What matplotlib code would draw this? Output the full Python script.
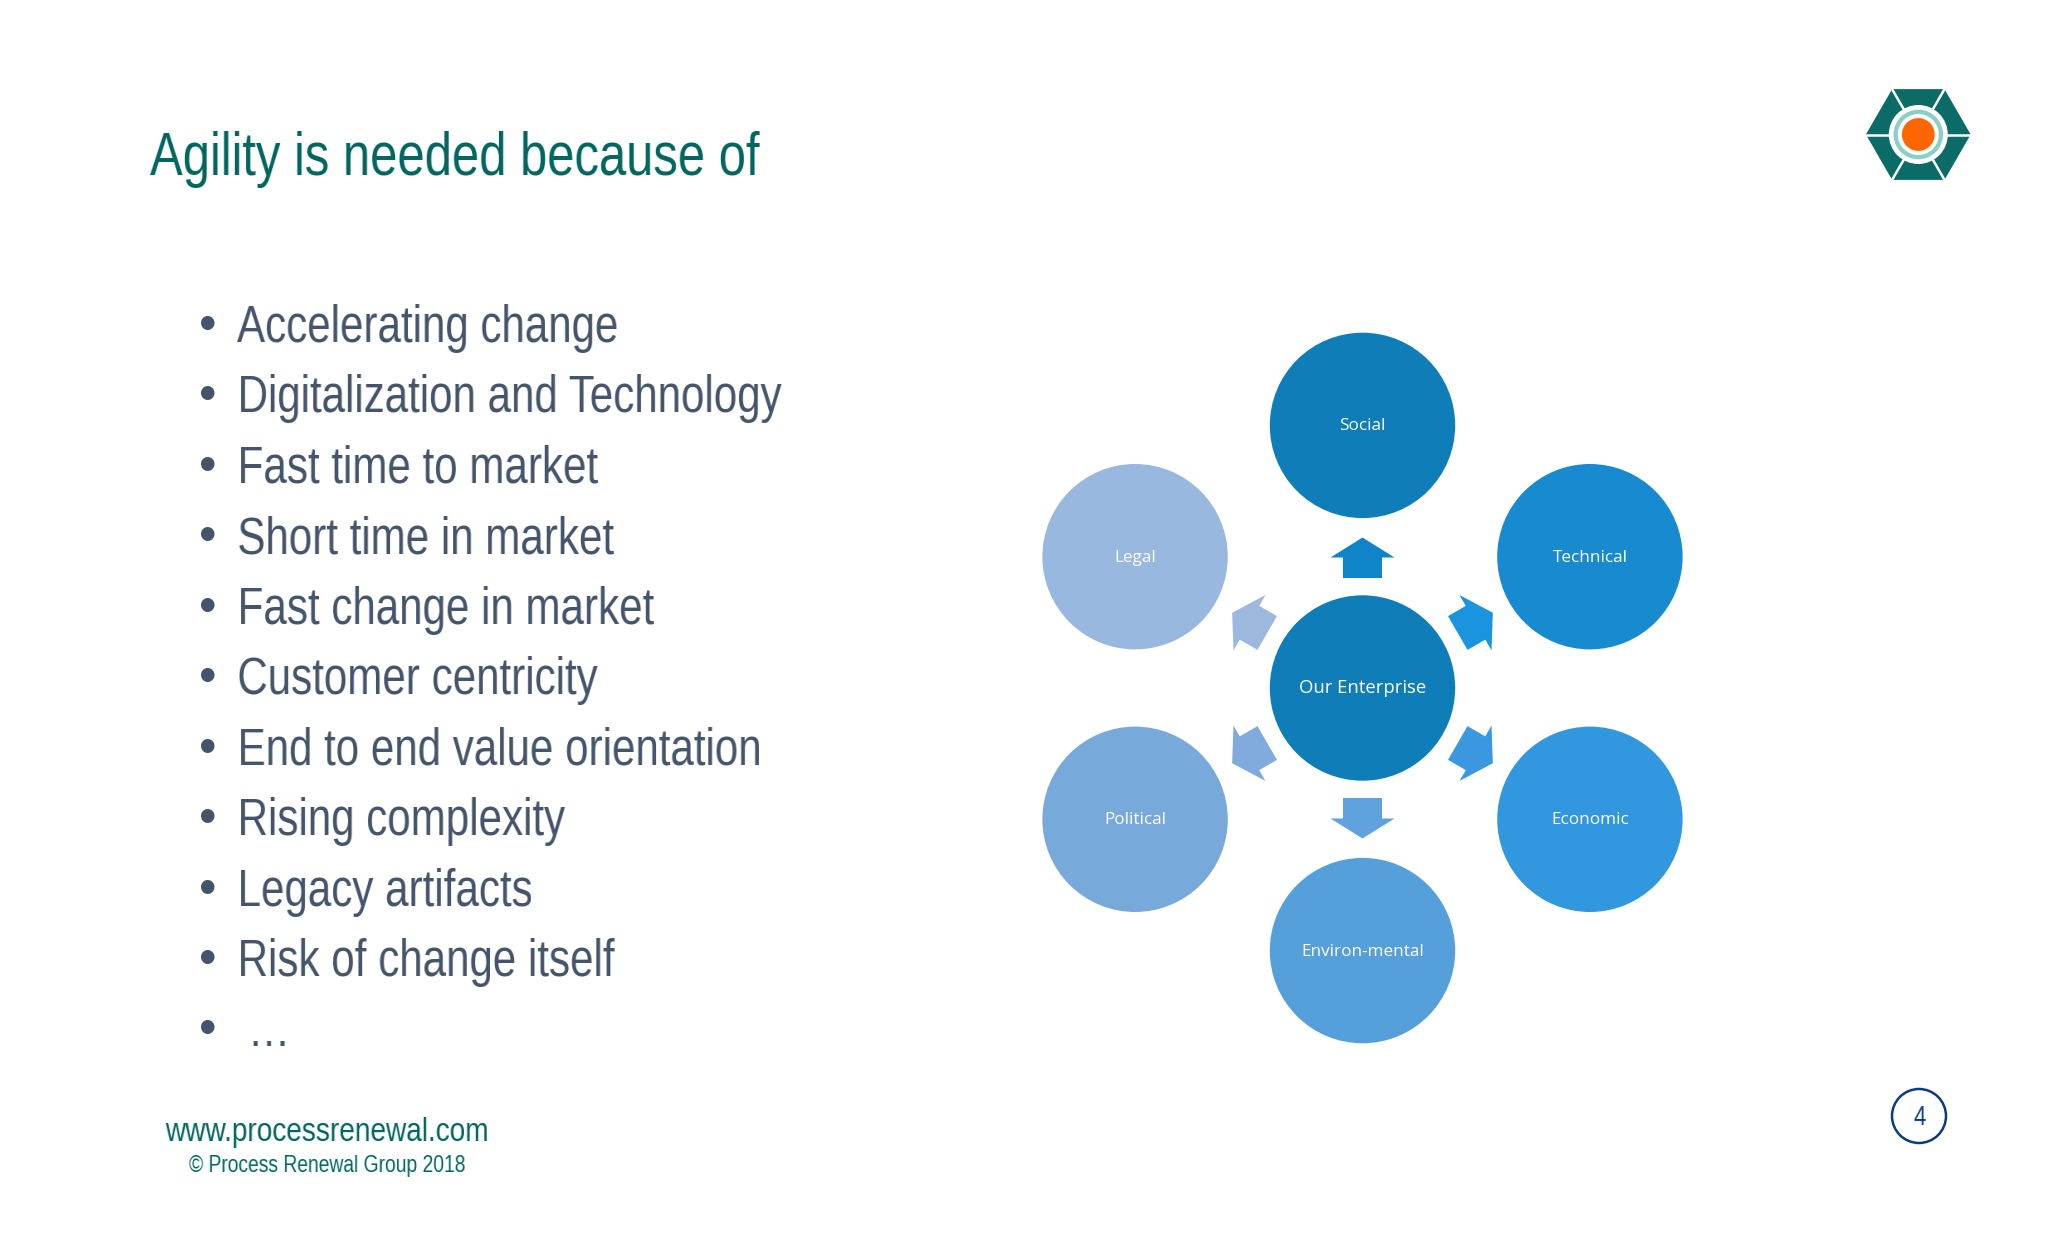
import numpy as np
import matplotlib
matplotlib.use("Agg")
import matplotlib.pyplot as plt
from matplotlib.patches import Circle, Polygon, RegularPolygon
from matplotlib.colors import to_rgb

title = "Agility is needed because of"
bullets = ["Accelerating change", "Digitalization and Technology", "Fast time to market",
           "Short time in market", "Fast change in market", "Customer centricity",
           "End to end value orientation", "Rising complexity", "Legacy artifacts",
           "Risk of change itself"]
ellipsis = "…"
center_label = "Our Enterprise"
center_color = "#0F7DB8"
outer_labels = ["Social", "Technical", "Economic", "Environ-mental", "Political", "Legal"]
outer_angles = [90, 30, -30, -90, -150, 150]
outer_colors = ["#0F7DB8", "#178AD0", "#3197DF", "#559FDA", "#78A9DB", "#99B8E0"]
arrow_colors = ["#0F84C8", "#1A94DE", "#3B98E0", "#5FA2DE", "#80ABDC", "#9CB8DF"]
footer_url = "www.processrenewal.com"
footer_copy = "© Process Renewal Group 2018"
page = "4"

TEAL = "#00665F"
SLATE = "#44546A"
SANS = "Liberation Sans"


def narrow(sx, color, center=False):
    """Agg filter: condense a text artist horizontally, as in the source slide."""
    rgb = np.array(to_rgb(color))

    def f(img, dpi):
        h, w = img.shape[:2]
        nw = max(1, int(round(w * sx)))
        a = img[..., 3]
        cum = np.concatenate([np.zeros((h, 1)), np.cumsum(a, axis=1)], axis=1)
        edges = np.arange(nw + 1) / sx
        edges = np.clip(edges, 0, w)
        i = np.floor(edges).astype(int)
        i2 = np.minimum(i + 1, w)
        frac = edges - i
        val = cum[:, i] * (1 - frac) + cum[:, i2] * frac
        alpha = np.clip(np.diff(val, axis=1) * sx, 0, 1)
        out = np.zeros((h, nw, 4))
        out[..., :3] = rgb
        out[..., 3] = alpha
        ox = int(round((w - nw) / 2)) if center else 0
        return out, ox, 0
    return f


fig = plt.figure(figsize=(20.48, 12.43), dpi=100, facecolor="white")
ax = fig.add_axes([0, 0, 1, 1])
ax.set_xlim(0, 2048)
ax.set_ylim(1243, 0)
ax.axis("off")

# title
ax.text(150.5, 175, title, family=SANS, fontsize=44.5, color=TEAL, va="baseline", ha="left",
        agg_filter=narrow(0.793, TEAL))

# bullet list
y0, dy = 341.5, 70.5
for i, s in enumerate(bullets):
    y = y0 + i * dy
    ax.text(208, y - 2, "•", family=SANS, fontsize=36, color=SLATE, va="baseline", ha="center")
    ax.text(237, y, s, family=SANS, fontsize=36.5, color=SLATE, va="baseline", ha="left",
            agg_filter=narrow(0.83, SLATE))
y = y0 + len(bullets) * dy
ax.text(208, y - 2, "•", family=SANS, fontsize=36, color=SLATE, va="baseline", ha="center")
ax.text(246, y, ellipsis, family=SANS, fontsize=36, color=SLATE, va="baseline", ha="left",
        agg_filter=narrow(0.85, SLATE))

# cycle diagram
cx, cy, R, r = 1362.5, 688, 262.6, 92.7
LAB = "Open Sans"
ax.add_patch(Circle((cx, cy), r, fc=center_color, ec="none"))
ax.text(cx, cy, center_label, family=LAB, fontsize=13.3, color="white", ha="center", va="center")
# arrow outline along its axis: (along, across)
along = np.array([-20, 0.5, 0.5, 20.5, 0.5, 0.5, -20])
across = np.array([-19.5, -19.5, -32, 0, 32, 19.5, 19.5])
for lab, ang, col, acol in zip(outer_labels, outer_angles, outer_colors, arrow_colors):
    t = np.deg2rad(ang)
    ux, uy = np.cos(t), -np.sin(t)
    ax.add_patch(Circle((cx + R * ux, cy + R * uy), r, fc=col, ec="none"))
    ax.text(cx + R * ux, cy + R * uy + 1, lab, family=LAB, fontsize=12.3, color="white", ha="center", va="center")
    px = cx + (130 + along) * ux - across * uy
    py = cy + (130 + along) * uy + across * ux
    ax.add_patch(Polygon(np.c_[px, py], closed=True, fc=acol, ec="none"))

# logo
lx, ly, lr = 1918.3, 134.5, 52.4
ax.add_patch(RegularPolygon((lx, ly), 6, radius=lr, orientation=np.pi / 6, fc="#0B6B66", ec="none"))
for a in np.deg2rad(np.arange(0, 360, 60)):
    ax.plot([lx, lx + 1.05 * lr * np.cos(a)], [ly, ly + 1.05 * lr * np.sin(a)], color="white", lw=1.8, solid_capstyle="butt")
for rad, col in [(29.5, "white"), (24.8, "#8CCFC4"), (20.5, "white"), (16.4, "#FF6600")]:
    ax.add_patch(Circle((lx, ly), rad, fc=col, ec="none", zorder=3))

# footer
ax.text(328, 1141.5, footer_url, family=SANS, fontsize=24, color=TEAL, ha="center", va="baseline",
        agg_filter=narrow(0.84, TEAL, center=True))
ax.text(327, 1172, footer_copy, family=SANS, fontsize=17.5, color=TEAL, ha="center", va="baseline",
        agg_filter=narrow(0.794, TEAL, center=True))

# page number
ax.add_patch(Circle((1919, 1116), 27, fc="white", ec="#0B3C82", lw=1.8))
ax.text(1919, 1118, page, family=SANS, fontsize=20, color="#0B3C82", ha="center", va="center",
        agg_filter=narrow(0.8, "#0B3C82", center=True))

fig.savefig("out.png", dpi=100, facecolor="white")
